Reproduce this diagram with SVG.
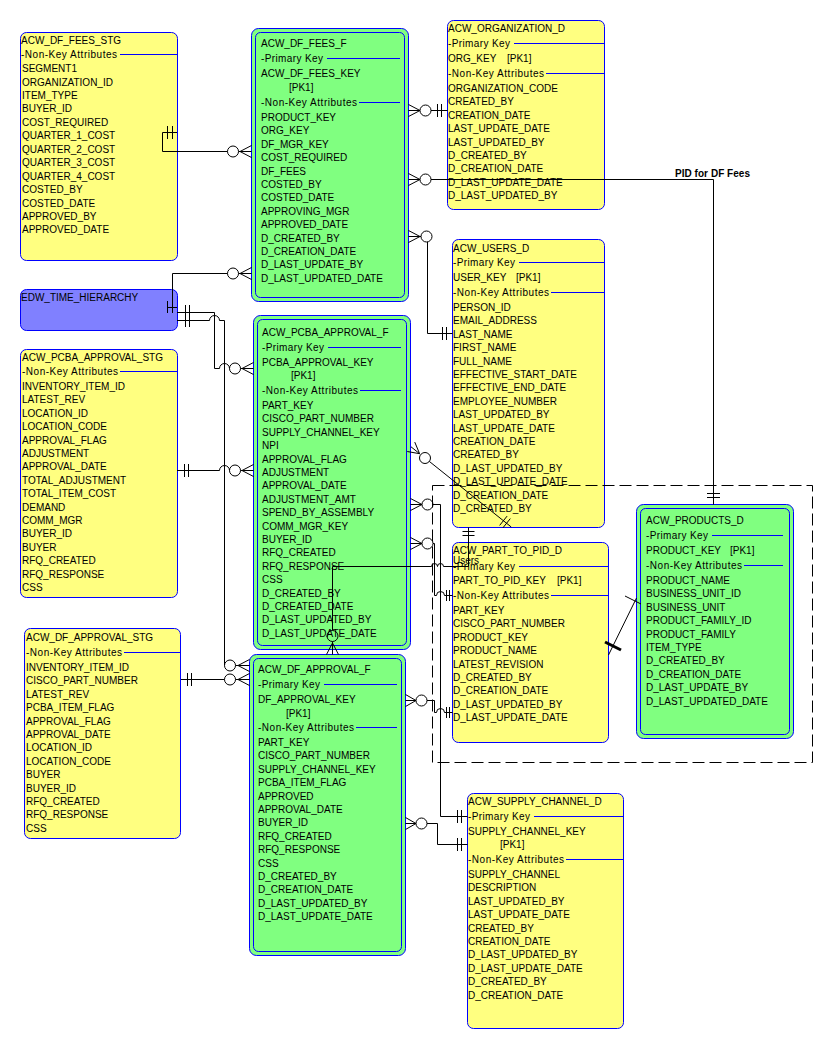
<svg xmlns="http://www.w3.org/2000/svg" width="834" height="1050" viewBox="0 0 834 1050">
<style>
.y{fill:#FFFF80;stroke:#0000FF;stroke-width:1}
.b{fill:#8080FF;stroke:#0000FF;stroke-width:1}
.g{fill:#80FF80;stroke:#0000FF;stroke-width:1}
.gi{fill:none;stroke:#0000FF;stroke-width:1}
.s{stroke:#0000FF;stroke-width:1;fill:none}
.t{font-family:"Liberation Sans",Arial,sans-serif;font-size:10px;fill:#000}
.c{fill:none;stroke:#000;stroke-width:1}
.o{fill:none;stroke:#000;stroke-width:1}
.lb{font-family:"Liberation Sans",Arial,sans-serif;font-size:10px;font-weight:bold;fill:#000}
</style>
<rect x="0" y="0" width="834" height="1050" fill="#FFFFFF"/>

<g id="acw_df_fees_stg">
<rect class="y" x="20.5" y="32.5" width="157" height="228" rx="6"/>
<path class="s" d="M120,54.5 H177"/>
<text class="t"><tspan x="21" y="44">ACW_DF_FEES_STG</tspan><tspan x="21" y="58" textLength="96">-Non-Key Attributes</tspan><tspan x="22" y="72">SEGMENT1</tspan><tspan x="22" y="85.5">ORGANIZATION_ID</tspan><tspan x="22" y="98.9">ITEM_TYPE</tspan><tspan x="22" y="112.4">BUYER_ID</tspan><tspan x="22" y="125.8">COST_REQUIRED</tspan><tspan x="22" y="139.3">QUARTER_1_COST</tspan><tspan x="22" y="152.7">QUARTER_2_COST</tspan><tspan x="22" y="166.2">QUARTER_3_COST</tspan><tspan x="22" y="179.6">QUARTER_4_COST</tspan><tspan x="22" y="193.1">COSTED_BY</tspan><tspan x="22" y="206.5">COSTED_DATE</tspan><tspan x="22" y="220">APPROVED_BY</tspan><tspan x="22" y="233.4">APPROVED_DATE</tspan></text>
</g>

<g id="acw_df_fees_f">
<rect class="g" x="251.5" y="28.5" width="157" height="273" rx="7"/>
<rect class="gi" x="255.5" y="32.5" width="149" height="265" rx="5"/>
<path class="s" d="M327,58.5 H400 M359,102.5 H400"/>
<text class="t"><tspan x="261" y="47">ACW_DF_FEES_F</tspan><tspan x="261" y="62" textLength="62">-Primary Key</tspan><tspan x="261" y="77">ACW_DF_FEES_KEY</tspan><tspan x="289" y="91">[PK1]</tspan><tspan x="261" y="106" textLength="96">-Non-Key Attributes</tspan><tspan x="261" y="121">PRODUCT_KEY</tspan><tspan x="261" y="134.4">ORG_KEY</tspan><tspan x="261" y="147.8">DF_MGR_KEY</tspan><tspan x="261" y="161.2">COST_REQUIRED</tspan><tspan x="261" y="174.6">DF_FEES</tspan><tspan x="261" y="188">COSTED_BY</tspan><tspan x="261" y="201.4">COSTED_DATE</tspan><tspan x="261" y="214.8">APPROVING_MGR</tspan><tspan x="261" y="228.2">APPROVED_DATE</tspan><tspan x="261" y="241.6">D_CREATED_BY</tspan><tspan x="261" y="255">D_CREATION_DATE</tspan><tspan x="261" y="268.4">D_LAST_UPDATE_BY</tspan><tspan x="261" y="281.8">D_LAST_UPDATED_DATE</tspan></text>
</g>

<g id="acw_organization_d">
<rect class="y" x="447.5" y="20.5" width="157" height="189" rx="6"/>
<path class="s" d="M514,43.5 H604 M546,73.5 H604"/>
<text class="t"><tspan x="448" y="32">ACW_ORGANIZATION_D</tspan><tspan x="448" y="47" textLength="62">-Primary Key</tspan><tspan x="448" y="62">ORG_KEY</tspan><tspan x="507" y="62">[PK1]</tspan><tspan x="448" y="77" textLength="96">-Non-Key Attributes</tspan><tspan x="448" y="92">ORGANIZATION_CODE</tspan><tspan x="448" y="105.4">CREATED_BY</tspan><tspan x="448" y="118.8">CREATION_DATE</tspan><tspan x="448" y="132.2">LAST_UPDATE_DATE</tspan><tspan x="448" y="145.6">LAST_UPDATED_BY</tspan><tspan x="448" y="159">D_CREATED_BY</tspan><tspan x="448" y="172.4">D_CREATION_DATE</tspan><tspan x="448" y="185.8">D_LAST_UPDATE_DATE</tspan><tspan x="448" y="199.2">D_LAST_UPDATED_BY</tspan></text>
</g>

<g id="acw_users_d">
<rect class="y" x="452.5" y="239.5" width="152" height="288" rx="6"/>
<path class="s" d="M519,262.5 H604 M551,292.5 H604"/>
<text class="t"><tspan x="453" y="252">ACW_USERS_D</tspan><tspan x="453" y="266" textLength="62">-Primary Key</tspan><tspan x="453" y="281">USER_KEY</tspan><tspan x="516" y="281">[PK1]</tspan><tspan x="453" y="296" textLength="96">-Non-Key Attributes</tspan><tspan x="453" y="311">PERSON_ID</tspan><tspan x="453" y="324.4">EMAIL_ADDRESS</tspan><tspan x="453" y="337.8">LAST_NAME</tspan><tspan x="453" y="351.2">FIRST_NAME</tspan><tspan x="453" y="364.6">FULL_NAME</tspan><tspan x="453" y="378">EFFECTIVE_START_DATE</tspan><tspan x="453" y="391.4">EFFECTIVE_END_DATE</tspan><tspan x="453" y="404.8">EMPLOYEE_NUMBER</tspan><tspan x="453" y="418.2">LAST_UPDATED_BY</tspan><tspan x="453" y="431.6">LAST_UPDATE_DATE</tspan><tspan x="453" y="445">CREATION_DATE</tspan><tspan x="453" y="458.4">CREATED_BY</tspan><tspan x="453" y="471.8">D_LAST_UPDATED_BY</tspan><tspan x="453" y="485.2">D_LAST_UPDATE_DATE</tspan><tspan x="453" y="498.6">D_CREATION_DATE</tspan><tspan x="453" y="512">D_CREATED_BY</tspan></text>
</g>

<g id="edw_time_hierarchy">
<rect class="b" x="20.5" y="289.5" width="157" height="41" rx="6"/>
<text class="t"><tspan x="21" y="301">EDW_TIME_HIERARCHY</tspan></text>
</g>

<g id="acw_pcba_approval_stg">
<rect class="y" x="20.5" y="349.5" width="157" height="248" rx="6"/>
<path class="s" d="M120,371.5 H177"/>
<text class="t"><tspan x="22" y="361">ACW_PCBA_APPROVAL_STG</tspan><tspan x="22" y="375" textLength="96">-Non-Key Attributes</tspan><tspan x="22" y="390">INVENTORY_ITEM_ID</tspan><tspan x="22" y="403.4">LATEST_REV</tspan><tspan x="22" y="416.8">LOCATION_ID</tspan><tspan x="22" y="430.2">LOCATION_CODE</tspan><tspan x="22" y="443.6">APPROVAL_FLAG</tspan><tspan x="22" y="457">ADJUSTMENT</tspan><tspan x="22" y="470.4">APPROVAL_DATE</tspan><tspan x="22" y="483.8">TOTAL_ADJUSTMENT</tspan><tspan x="22" y="497.2">TOTAL_ITEM_COST</tspan><tspan x="22" y="510.6">DEMAND</tspan><tspan x="22" y="524">COMM_MGR</tspan><tspan x="22" y="537.4">BUYER_ID</tspan><tspan x="22" y="550.8">BUYER</tspan><tspan x="22" y="564.2">RFQ_CREATED</tspan><tspan x="22" y="577.6">RFQ_RESPONSE</tspan><tspan x="22" y="591">CSS</tspan></text>
</g>

<g id="acw_pcba_approval_f">
<rect class="g" x="253.5" y="315.5" width="157" height="334" rx="7"/>
<rect class="gi" x="257.5" y="319.5" width="149" height="326" rx="5"/>
<path class="s" d="M328,347.5 H401 M360,390.5 H401"/>
<text class="t"><tspan x="262" y="336">ACW_PCBA_APPROVAL_F</tspan><tspan x="262" y="351" textLength="62">-Primary Key</tspan><tspan x="262" y="366">PCBA_APPROVAL_KEY</tspan><tspan x="291" y="379">[PK1]</tspan><tspan x="262" y="394" textLength="96">-Non-Key Attributes</tspan><tspan x="262" y="409">PART_KEY</tspan><tspan x="262" y="422.4">CISCO_PART_NUMBER</tspan><tspan x="262" y="435.8">SUPPLY_CHANNEL_KEY</tspan><tspan x="262" y="449.2">NPI</tspan><tspan x="262" y="462.6">APPROVAL_FLAG</tspan><tspan x="262" y="476">ADJUSTMENT</tspan><tspan x="262" y="489.4">APPROVAL_DATE</tspan><tspan x="262" y="502.8">ADJUSTMENT_AMT</tspan><tspan x="262" y="516.2">SPEND_BY_ASSEMBLY</tspan><tspan x="262" y="529.6">COMM_MGR_KEY</tspan><tspan x="262" y="543">BUYER_ID</tspan><tspan x="262" y="556.4">RFQ_CREATED</tspan><tspan x="262" y="569.8">RFQ_RESPONSE</tspan><tspan x="262" y="583.2">CSS</tspan><tspan x="262" y="596.6">D_CREATED_BY</tspan><tspan x="262" y="610">D_CREATED_DATE</tspan><tspan x="262" y="623.4">D_LAST_UPDATED_BY</tspan><tspan x="262" y="636.8">D_LAST_UPDATE_DATE</tspan></text>
</g>

<g id="acw_df_approval_stg">
<rect class="y" x="24.5" y="628.5" width="156" height="210" rx="6"/>
<path class="s" d="M124,652.5 H181"/>
<text class="t"><tspan x="26" y="641">ACW_DF_APPROVAL_STG</tspan><tspan x="26" y="656" textLength="96">-Non-Key Attributes</tspan><tspan x="26" y="671">INVENTORY_ITEM_ID</tspan><tspan x="26" y="684.4">CISCO_PART_NUMBER</tspan><tspan x="26" y="697.8">LATEST_REV</tspan><tspan x="26" y="711.2">PCBA_ITEM_FLAG</tspan><tspan x="26" y="724.6">APPROVAL_FLAG</tspan><tspan x="26" y="738">APPROVAL_DATE</tspan><tspan x="26" y="751.4">LOCATION_ID</tspan><tspan x="26" y="764.8">LOCATION_CODE</tspan><tspan x="26" y="778.2">BUYER</tspan><tspan x="26" y="791.6">BUYER_ID</tspan><tspan x="26" y="805">RFQ_CREATED</tspan><tspan x="26" y="818.4">RFQ_RESPONSE</tspan><tspan x="26" y="831.8">CSS</tspan></text>
</g>

<g id="acw_df_approval_f">
<rect class="g" x="249.5" y="654.5" width="156" height="301" rx="7"/>
<rect class="gi" x="253.5" y="658.5" width="148" height="293" rx="5"/>
<path class="s" d="M324,684.5 H397 M356,727.5 H397"/>
<text class="t"><tspan x="258" y="673">ACW_DF_APPROVAL_F</tspan><tspan x="258" y="688" textLength="62">-Primary Key</tspan><tspan x="258" y="703">DF_APPROVAL_KEY</tspan><tspan x="286" y="717">[PK1]</tspan><tspan x="258" y="731" textLength="96">-Non-Key Attributes</tspan><tspan x="258" y="746">PART_KEY</tspan><tspan x="258" y="759.4">CISCO_PART_NUMBER</tspan><tspan x="258" y="772.8">SUPPLY_CHANNEL_KEY</tspan><tspan x="258" y="786.2">PCBA_ITEM_FLAG</tspan><tspan x="258" y="799.6">APPROVED</tspan><tspan x="258" y="813">APPROVAL_DATE</tspan><tspan x="258" y="826.4">BUYER_ID</tspan><tspan x="258" y="839.8">RFQ_CREATED</tspan><tspan x="258" y="853.2">RFQ_RESPONSE</tspan><tspan x="258" y="866.6">CSS</tspan><tspan x="258" y="880">D_CREATED_BY</tspan><tspan x="258" y="893.4">D_CREATION_DATE</tspan><tspan x="258" y="906.8">D_LAST_UPDATED_BY</tspan><tspan x="258" y="920.2">D_LAST_UPDATE_DATE</tspan></text>
</g>

<g id="acw_part_to_pid_d">
<rect class="y" x="452.5" y="542.5" width="156" height="200" rx="6"/>
<path class="s" d="M519,566.5 H608 M551,595.5 H608"/>
<text class="t"><tspan x="453" y="554">ACW_PART_TO_PID_D</tspan><tspan x="453" y="570" textLength="62">-Primary Key</tspan><tspan x="453" y="584">PART_TO_PID_KEY</tspan><tspan x="557" y="584">[PK1]</tspan><tspan x="453" y="599" textLength="96">-Non-Key Attributes</tspan><tspan x="453" y="614">PART_KEY</tspan><tspan x="453" y="627.4">CISCO_PART_NUMBER</tspan><tspan x="453" y="640.8">PRODUCT_KEY</tspan><tspan x="453" y="654.2">PRODUCT_NAME</tspan><tspan x="453" y="667.6">LATEST_REVISION</tspan><tspan x="453" y="681">D_CREATED_BY</tspan><tspan x="453" y="694.4">D_CREATION_DATE</tspan><tspan x="453" y="707.8">D_LAST_UPDATED_BY</tspan><tspan x="453" y="721.2">D_LAST_UPDATE_DATE</tspan></text>
</g>

<g id="acw_products_d">
<rect class="g" x="636.5" y="504.5" width="157" height="234" rx="7"/>
<rect class="gi" x="640.5" y="508.5" width="149" height="226" rx="5"/>
<path class="s" d="M712,535.5 H783 M744,565.5 H783"/>
<text class="t"><tspan x="646" y="524">ACW_PRODUCTS_D</tspan><tspan x="646" y="539" textLength="62">-Primary Key</tspan><tspan x="646" y="554">PRODUCT_KEY</tspan><tspan x="730" y="554">[PK1]</tspan><tspan x="646" y="569" textLength="96">-Non-Key Attributes</tspan><tspan x="646" y="584">PRODUCT_NAME</tspan><tspan x="646" y="597.4">BUSINESS_UNIT_ID</tspan><tspan x="646" y="610.8">BUSINESS_UNIT</tspan><tspan x="646" y="624.2">PRODUCT_FAMILY_ID</tspan><tspan x="646" y="637.6">PRODUCT_FAMILY</tspan><tspan x="646" y="651">ITEM_TYPE</tspan><tspan x="646" y="664.4">D_CREATED_BY</tspan><tspan x="646" y="677.8">D_CREATION_DATE</tspan><tspan x="646" y="691.2">D_LAST_UPDATE_BY</tspan><tspan x="646" y="704.6">D_LAST_UPDATED_DATE</tspan></text>
</g>

<g id="acw_supply_channel_d">
<rect class="y" x="467.5" y="793.5" width="156" height="235" rx="6"/>
<path class="s" d="M534,816.5 H623 M566,859.5 H623"/>
<text class="t"><tspan x="468" y="805">ACW_SUPPLY_CHANNEL_D</tspan><tspan x="468" y="820" textLength="62">-Primary Key</tspan><tspan x="468" y="835">SUPPLY_CHANNEL_KEY</tspan><tspan x="500" y="848">[PK1]</tspan><tspan x="468" y="863" textLength="96">-Non-Key Attributes</tspan><tspan x="468" y="878">SUPPLY_CHANNEL</tspan><tspan x="468" y="891.4">DESCRIPTION</tspan><tspan x="468" y="904.8">LAST_UPDATED_BY</tspan><tspan x="468" y="918.2">LAST_UPDATE_DATE</tspan><tspan x="468" y="931.6">CREATED_BY</tspan><tspan x="468" y="945">CREATION_DATE</tspan><tspan x="468" y="958.4">D_LAST_UPDATED_BY</tspan><tspan x="468" y="971.8">D_LAST_UPDATE_DATE</tspan><tspan x="468" y="985.2">D_CREATED_BY</tspan><tspan x="468" y="998.6">D_CREATION_DATE</tspan></text>
</g>

<g id="connectors">
<!-- DF_FEES_STG -> DF_FEES_F -->
<path class="c" d="M177,132.5 H162.5 V151.5 H227.5 M167.5,126 V139 M172.5,126 V139"/>
<circle class="o" cx="233" cy="151.5" r="5.5"/>
<path class="c" d="M238.5,151.5 H251.5 M240,151.5 L251.5,145.5 M240,151.5 L251.5,157.5"/>
<!-- EDW -> DF_FEES_F -->
<path class="c" d="M172.5,313 V273.5 H227.5 M167.5,301 V313 M167.5,307.5 H177"/>
<circle class="o" cx="233" cy="273.5" r="5.5"/>
<path class="c" d="M238.5,273.5 H251.5 M240,273.5 L251.5,267.5 M240,273.5 L251.5,279.5"/>
<!-- EDW -> PCBA_F -->
<path class="c" d="M177,312.5 H214.5 V368.5 H219.5 A5,5 0 0 1 229.5,368.5"/>
<circle class="o" cx="235" cy="368.5" r="5.5"/>
<path class="c" d="M240.5,368.5 H253.5 M242,368.5 L253.5,362.5 M242,368.5 L253.5,374.5"/>
<path class="c" d="M185.5,305 V327 M189.5,305 V327"/>
<!-- EDW -> DF_APPROVAL_F -->
<path class="c" d="M177,320.5 H209.5 A5,5 0 0 1 219.5,320.5 H224.5 V665.5"/>
<circle class="o" cx="230" cy="665.5" r="5.5"/>
<path class="c" d="M235.5,665.5 H249.5 M238,665.5 L249.5,659.5 M238,665.5 L249.5,671.5"/>
<!-- PCBA_STG -> PCBA_F -->
<path class="c" d="M177,470.5 H219.5 A5,5 0 0 1 229.5,470.5 M184.5,464 V477 M188.5,464 V477"/>
<circle class="o" cx="235" cy="470.5" r="5.5"/>
<path class="c" d="M240.5,470.5 H253.5 M242,470.5 L253.5,464.5 M242,470.5 L253.5,476.5"/>
<!-- DF_APPROVAL_STG -> DF_APPROVAL_F -->
<path class="c" d="M181,679.5 H224.5 M187.5,673 V686 M191.5,673 V686"/>
<circle class="o" cx="230" cy="679.5" r="5.5"/>
<path class="c" d="M235.5,679.5 H249.5 M238,679.5 L249.5,673.5 M238,679.5 L249.5,685.5"/>
<!-- DF_FEES_F -> ORGANIZATION_D -->
<path class="c" d="M408.5,110.5 H420 M420,110.5 L408.5,104.5 M420,110.5 L408.5,116.5"/>
<circle class="o" cx="425.5" cy="110.5" r="5.5"/>
<path class="c" d="M431,110.5 H447.5 M437.5,104 V117 M441.5,104 V117"/>
<!-- DF_FEES_F -> PRODUCTS_D (PID for DF Fees) -->
<path class="c" d="M408.5,179.5 H420 M420,179.5 L408.5,173.5 M420,179.5 L408.5,185.5"/>
<circle class="o" cx="425.5" cy="179.5" r="5.5"/>
<path class="c" d="M431,179.5 H713.5 V504.5 M707,493.5 H720 M707,497.5 H720"/>
<!-- DF_FEES_F -> USERS_D -->
<path class="c" d="M408.5,236.5 H421 M420,236.5 L408.5,230.5 M420,236.5 L408.5,242.5"/>
<circle class="o" cx="426.5" cy="236.5" r="5.5"/>
<path class="c" d="M427.5,242 V333.5 H452.5 M442.5,327 V340 M446.5,327 V340"/>
<!-- PCBA_F -> USERS_D (diagonal) -->
<path class="c" d="M411,446.8 L419.6,453.7 M407.25,451.5 L419.6,453.7 M414.75,442.1 L419.6,453.7"/>
<circle class="o" cx="425" cy="458" r="5.5"/>
<path class="c" d="M429.3,461.4 L511.25,527 M510.3,518.6 L502.85,527.9 M507.1,516.1 L499.65,525.4"/>
<!-- PCBA_F -> SUPPLY_CHANNEL_D -->
<path class="c" d="M410.5,504.5 H422 M422,504.5 L410.5,498.5 M422,504.5 L410.5,510.5"/>
<circle class="o" cx="427.5" cy="504.5" r="5.5"/>
<path class="c" d="M433,504.5 H440.5 V816.5 H467.5 M457.5,810 V823 M461.5,810 V823"/>
<!-- PCBA_F -> PART_TO_PID_D -->
<path class="c" d="M410.5,543.5 H422 M422,543.5 L410.5,537.5 M422,543.5 L410.5,549.5"/>
<circle class="o" cx="427.5" cy="543.5" r="5.5"/>
<path class="c" d="M433,543.5 H434.5 V595.5 H436.5 A4,4 0 0 1 444.5,595.5 H452.5 M446.5,590 V601 M449.5,590 V601"/>
<!-- DF_APPROVAL_F -> PART_TO_PID_D -->
<path class="c" d="M405.5,700.5 H416 M416,700.5 L405.5,694.5 M416,700.5 L405.5,706.5"/>
<circle class="o" cx="421.5" cy="700.5" r="5.5"/>
<path class="c" d="M427,700.5 H434.5 V712.5 H436.5 A4,4 0 0 1 444.5,712.5 H452.5 M446.5,707 V718 M449.5,707 V718"/>
<!-- DF_APPROVAL_F -> SUPPLY_CHANNEL_D -->
<path class="c" d="M405.5,823.5 H416 M416,823.5 L405.5,817.5 M416,823.5 L405.5,829.5"/>
<circle class="o" cx="421.5" cy="823.5" r="5.5"/>
<path class="c" d="M427,823.5 H437.5 V844.5 H467.5 M457.5,838 V851 M461.5,838 V851"/>
<!-- USERS_D -> DF_APPROVAL_F (Users) -->
<path class="c" d="M468.5,527.5 V566.5 H443.5 A3,3 0 0 0 437.5,566.5 A3,3 0 0 0 431.5,566.5 H332.5 V630.5 M462.5,531.5 H474.5 M462.5,535.5 H474.5"/>
<circle class="o" cx="332.5" cy="636" r="5.5"/>
<path class="c" d="M332.5,641.5 V654.5 M332.5,643 L326.5,654.5 M332.5,643 L338.5,654.5"/>
<!-- PART_TO_PID_D -> PRODUCTS_D -->
<path class="c" d="M608.5,655 L636.5,598 M625,596 L641,604"/>
<path d="M605,642 L621,650" stroke="#000" stroke-width="3" fill="none"/>
</g>

<g id="subject_area">
<rect x="432.5" y="485.5" width="380" height="277" fill="none" stroke="#000" stroke-width="1" stroke-dasharray="12 5"/>
</g>

<g id="labels">
<text class="lb" x="675" y="177" textLength="75">PID for DF Fees</text>
<text class="t" x="453" y="564">Users</text>
</g>
</svg>
